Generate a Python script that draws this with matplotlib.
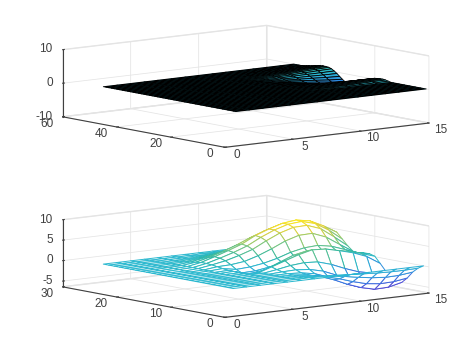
import numpy as np
import matplotlib
matplotlib.use('Agg')
import matplotlib.pyplot as plt
from matplotlib.colors import LinearSegmentedColormap, Normalize

plt.rcParams['font.family'] = ['Liberation Sans', 'DejaVu Sans']
plt.rcParams['axes.unicode_minus'] = False

# flat outside this block, rows y=14..47, columns x=10..15
top_block = [
    [0, 0, 0, 0, 0, 0],
    [0, .05, .1, .1, .15, .2],
    [.05, .1, .2, .25, .35, .4],
    [.05, .1, .2, .3, .4, .5],
    [.05, .1, .2, .3, .4, .5],
    [.05, .1, .2, .25, .35, .4],
    [0, .05, .15, .2, .25, .3],
    [0, 0, .05, .05, .1, .1],
    [0, -.05, -.1, -.15, -.2, -.2],
    [-.05, -.1, -.2, -.3, -.4, -.5],
    [-.1, -.25, -.45, -.65, -.85, -1.0],
    [-.15, -.4, -.7, -1.0, -1.3, -1.5],
    [-.2, -.5, -.95, -1.4, -1.8, -2.1],
    [-.25, -.7, -1.2, -1.75, -2.3, -2.7],
    [-.3, -.75, -1.35, -1.95, -2.55, -3.0],
    [-.3, -.8, -1.4, -2.0, -2.6, -3.1],
    [-.3, -.7, -1.3, -1.9, -2.45, -2.9],
    [-.25, -.6, -1.1, -1.55, -2.05, -2.4],
    [-.2, -.45, -.8, -1.15, -1.55, -1.8],
    [-.1, -.3, -.5, -.7, -.95, -1.1],
    [-.05, -.1, -.2, -.25, -.35, -.4],
    [0, .05, .1, .15, .15, .2],
    [.05, .2, .3, .45, .6, .7],
    [.1, .25, .45, .65, .85, 1.0],
    [.1, .3, .5, .7, .95, 1.1],
    [.1, .3, .5, .7, .95, 1.1],
    [.1, .25, .45, .65, .85, 1.0],
    [.1, .2, .4, .6, .75, .9],
    [.05, .2, .3, .45, .6, .7],
    [.05, .1, .2, .3, .4, .5],
    [.05, .1, .2, .25, .35, .4],
    [0, .05, .1, .15, .15, .2],
    [0, 0, .05, .05, .1, .1],
    [0, 0, 0, 0, 0, 0],
]

z_bottom = [
    [0, 0, 0, 0, 0, 0, 0, 0, 0, 0, 0, 0, 0, 0, 0],
    [0, 0, 0, 0, 0, 0, 0, -.1, -.2, -.4, -.6, -.8, -.9, -.9, -.8],
    [0, 0, 0, 0, 0, 0, -.1, -.3, -.6, -1.1, -1.7, -2.2, -2.5, -2.4, -2.0],
    [0, 0, 0, 0, 0, 0, -.1, -.4, -1, -1.9, -3, -3.9, -4.3, -4.2, -3.7],
    [0, 0, 0, 0, 0, 0, -.1, -.4, -1.2, -2.4, -3.9, -5.1, -5.9, -5.8, -5.0],
    [0, 0, 0, 0, 0, 0, 0, -.2, -.8, -2.0, -3.6, -5.0, -5.8, -5.8, -5.2],
    [0, 0, 0, 0, 0, 0, .2, .3, 0, -.8, -2.2, -3.6, -4.6, -4.8, -4.3],
    [0, 0, 0, 0, 0, 0, .5, 1.1, 1.4, 1.2, .2, -1.2, -2.4, -3.1, -3.0],
    [0, 0, 0, 0, 0, -.2, .9, 2, 3.1, 3.9, 3.7, 2.9, 2, .7, -1.4],
    [0, 0, 0, 0, 0, -.6, .1, 1.4, 2.7, 3.4, 3.2, 2.7, 2.1, 1.2, .1],
    [0, 0, 0, 0, .1, -.9, -.7, .2, 1.2, 1.9, 2.1, 2, 1.7, 1.1, .5],
    [0, 0, 0, 0, .1, -.9, -.8, -.3, .4, 1.1, 1.7, 1.9, 1.6, 1, .4],
    [0, 0, 0, .1, .3, -.3, -.1, .4, 1.2, 2.3, 3, 3.2, 2.6, 1.4, .2],
    [0, 0, 0, .1, .5, .6, 1, 2, 3.3, 4.8, 5.8, 5.9, 4.6, 2.4, .3],
    [0, 0, 0, .2, .7, 1.3, 2.2, 3.3, 5, 6.5, 7.5, 7.6, 6.4, 4, 1.4],
    [0, 0, .1, .2, .8, 1.7, 2.7, 3.9, 5.6, 7, 8, 8.3, 7.4, 5.4, 2.8],
    [0, 0, .1, .2, .8, 1.8, 2.9, 4.1, 5.8, 7, 8, 8.4, 7.8, 6.2, 4.2],
    [0, 0, .1, .2, .6, 1.4, 2.4, 3.6, 5, 6.2, 7.2, 7.6, 7.3, 6, 4.6],
    [0, 0, 0, .1, .4, 1, 1.7, 2.7, 3.8, 4.9, 5.8, 6.4, 6.3, 5.4, 4.2],
    [0, 0, 0, .1, .2, .6, 1.1, 1.8, 2.6, 3.5, 4.3, 4.9, 5, 4.4, 3.4],
    [0, 0, 0, 0, .1, .3, .6, 1, 1.6, 2.3, 2.9, 3.4, 3.5, 3.1, 2.4],
    [0, 0, 0, 0, 0, .1, .3, .5, .9, 1.3, 1.7, 2, 2.2, 1.9, 1.5],
    [0, 0, 0, 0, 0, 0, .1, .2, .4, .6, .8, 1, 1.1, .9, .7],
    [0, 0, 0, 0, 0, 0, 0, .1, .1, .2, .3, .4, .4, .3, .2],
    [0, 0, 0, 0, 0, 0, 0, 0, 0, 0, 0, 0, 0, 0, 0],
]

x_ticks = [0, 5, 10, 15]
y_ticks_top = [0, 20, 40, 60]
y_ticks_bottom = [0, 10, 20, 30]
z_ticks_top = [-10, 0, 10]
z_ticks_bottom = [-5, 0, 5, 10]

parula = LinearSegmentedColormap.from_list('parula', [(0, '#5A45C8'), (.12, '#4A55DE'), (.27, '#2F86E0'),
                                                      (.41, '#2AB8D2'), (.5, '#2EB7A4'), (.625, '#6DC48A'),
                                                      (.75, '#A8CC60'), (.875, '#E6D23C'), (1, '#FBE81A')])
norm = Normalize(-6, 8.4)

def style_axes(ax, ylim, zlim, yticks, zticks):
    ax.set_proj_type('ortho')
    ax.view_init(elev=8.6, azim=-128.5)
    ax.set_box_aspect((261, 261, 68), zoom=2.05)
    ax.set_xlim(0, 15, view_margin=0)
    ax.set_ylim(0, ylim, view_margin=0)
    ax.set_zlim(zlim[0], zlim[1], view_margin=0)
    ax.set_xticks(x_ticks)
    ax.set_yticks(yticks)
    ax.set_zticks(zticks)
    for axis in [ax.xaxis, ax.yaxis, ax.zaxis]:
        axis.set_pane_color((1, 1, 1, 1))
        axis.pane.set_edgecolor('#e6e6e6')
        axis.line.set_color('#404040')
        axis.line.set_linewidth(0.8)
        axis._axinfo['grid']['color'] = '#e4e4e4'
        axis._axinfo['grid']['linewidth'] = 0.55
        axis._axinfo['tick']['color'] = '#404040'
        axis._axinfo['tick']['inward_factor'] = 0.0
        axis._axinfo['tick']['outward_factor'] = 0.1
    ax.tick_params(labelsize=8.5, colors='#404040', pad=-3)
    ax.tick_params(axis='z', pad=-6.2)
    for axis in [ax.xaxis, ax.yaxis, ax.zaxis]:
        for label in axis.get_ticklabels():
            label.set_va('center')
    for label in ax.zaxis.get_ticklabels():
        label.set_ha('right')

fig = plt.figure(figsize=(4.74, 3.55), dpi=100)

# top: surf with black edges
ax1 = fig.add_axes([0.0135, 0.5, 1, 0.5], projection='3d')
z_top = np.zeros((50, 15))
z_top[13:47, 9:15] = top_block
X, Y = np.meshgrid(np.arange(1, 16), np.arange(1, 51))
top_surf = ax1.plot_surface(X, Y, z_top, rstride=1, cstride=1, cmap=parula, norm=norm, edgecolor='black',
                            linewidth=0.6, shade=False, antialiased=True)
top_surf.set_clip_on(False)
style_axes(ax1, 60, (-10, 10), y_ticks_top, z_ticks_top)

# bottom: mesh, white faces and coloured edges
ax2 = fig.add_axes([0.0135, 0.021, 1, 0.5], projection='3d')
Z = np.array(z_bottom)
X, Y = np.meshgrid(np.arange(1, 16), np.arange(1, 26))
surf = ax2.plot_surface(X, Y, Z, rstride=1, cstride=1, color='white', shade=False, linewidth=0.7)
surf.set_clip_on(False)
z_mid = (Z[:-1, :-1] + Z[1:, :-1] + Z[:-1, 1:] + Z[1:, 1:]) / 4
surf.set_edgecolor(parula(norm(z_mid.ravel())))
style_axes(ax2, 30, (-6.4, 10), y_ticks_bottom, z_ticks_bottom)

plt.savefig('out.png', dpi=100)
